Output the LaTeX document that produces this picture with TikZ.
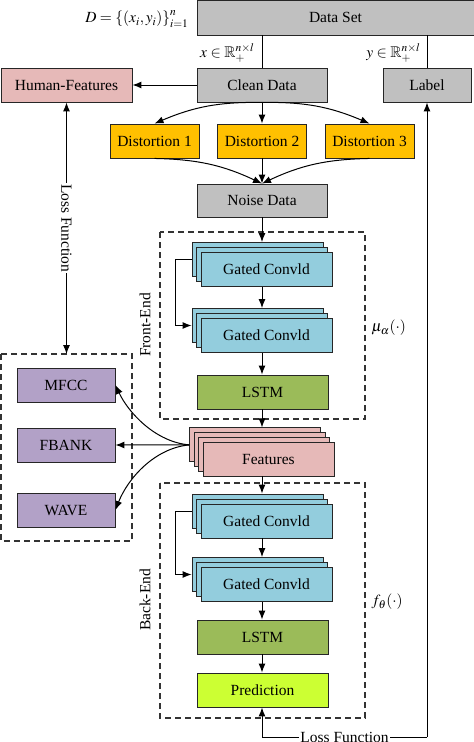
\documentclass[tikz,border=0pt]{standalone}
\usepackage{amsmath}
\usepackage{amssymb}
\usepackage{mathptmx}
\usepackage{fontspec}
\setmainfont{Liberation Serif}
\usepackage{tikz}
\usetikzlibrary{arrows.meta}
\definecolor{greybox}{RGB}{192,192,192}
\definecolor{pinkbox}{RGB}{230,185,184}
\definecolor{goldbox}{RGB}{255,192,0}
\definecolor{bluebox}{RGB}{147,205,221}
\definecolor{greenbox}{RGB}{155,187,89}
\definecolor{limebox}{RGB}{204,255,51}
\definecolor{purplebox}{RGB}{178,161,199}

\begin{document}
\begin{tikzpicture}[x=1pt,y=-1pt,
  every node/.style={font=\fontsize{15.5}{18}\selectfont},
  box/.style={draw=black!85, line width=0.9pt, inner sep=0pt, minimum height=34pt, minimum width=131pt},
  grey/.style={box, fill=greybox},
  dist/.style={box, fill=goldbox, minimum width=89pt},
  conv/.style={box, fill=bluebox},
  lstmbox/.style={box, fill=greenbox},
  predbox/.style={box, fill=limebox},
  featbox/.style={box, fill=pinkbox},
  hand/.style={box, fill=purplebox, minimum width=98pt},
  arr/.style={line width=1pt, -{Latex[length=9pt,width=7pt]}},
  dblarr/.style={line width=1pt, {Latex[length=9pt,width=7pt]}-{Latex[length=9pt,width=7pt]}},
  dbox/.style={line width=1.1pt, dash pattern=on 6pt off 4pt, draw=black!80}]
\fill[white] (0,0) rectangle (474,742);
\useasboundingbox (0,0) rectangle (474,742);

\node[grey, minimum width=277pt, minimum height=35pt] (data) at (335.5,17.5) {Data Set};
\node[grey, minimum width=130pt] (clean) at (262,85) {Clean Data};
\node[grey, minimum width=88pt] (label) at (427,85) {Label};
\node[featbox] (hf) at (66.5,85) {Human-Features};
\node[dist] (d1) at (154.5,141) {Distortion 1};
\node[dist] (d2) at (262,141) {Distortion 2};
\node[dist] (d3) at (369.5,141) {Distortion 3};
\node[grey, minimum width=130pt, minimum height=33pt] (noise) at (262,200.5) {Noise Data};

\foreach \k in {2,1}
  \node[conv] (g1-\k) at (266.5-4.5*\k,269.5-5*\k) {};
\node[conv] (g1) at (266.5,269.5) {Gated Convld};
\foreach \k in {2,1}
  \node[conv] (g2-\k) at (266.5-4.5*\k,335.5-5*\k) {};
\node[conv] (g2) at (266.5,335.5) {Gated Convld};
\node[lstmbox] (lstm1) at (262.5,392) {LSTM};

\foreach \k in {3,2,1}
  \node[featbox] (f-\k) at (268.5-4.4*\k,459-4.7*\k) {};
\node[featbox] (feat) at (268.5,459) {Features};

\foreach \k in {2,1}
  \node[conv] (g3-\k) at (266.5-4.5*\k,521-5*\k) {};
\node[conv] (g3) at (266.5,521) {Gated Convld};
\foreach \k in {2,1}
  \node[conv] (g4-\k) at (266.5-4.5*\k,584.5-5*\k) {};
\node[conv] (g4) at (266.5,584.5) {Gated Convld};
\node[lstmbox] (lstm2) at (262.5,637) {LSTM};
\node[predbox] (pred) at (262.5,690) {Prediction};

\node[hand] (mfcc) at (66,385) {MFCC};
\node[hand] (fbank) at (66,445) {FBANK};
\node[hand] (wave) at (66,510) {WAVE};

\draw[dbox] (160,232) rectangle (365,419);
\draw[dbox] (160,483) rectangle (365,718);
\draw[dbox] (1,354) rectangle (132,541);
\coordinate (hbox) at (66.5,354);
\coordinate (lossc) at (427,737);

\node[anchor=east] (dform) at (192,19) {$D=\left\{\left(x_i,y_i\right)\right\}_{i=1}^{n}$};
\node[anchor=east] (xlab) at (258,53) {$x\in\mathbb{R}_{+}^{n\times l}$};
\node[anchor=east] (ylab) at (424,53) {$y\in\mathbb{R}_{+}^{n\times l}$};
\node[anchor=west] (mu) at (368,328) {$\mu_\alpha(\cdot)$};
\node[anchor=west] (fth) at (368,602) {$f_\theta(\cdot)$};
\node[rotate=90] (fe) at (145,325) {Front-End};
\node[rotate=90] (be) at (145,600) {Back-End};

\draw[line width=1pt] (data.south -| clean) -- (clean.north);
\draw[line width=1pt] (data.south -| label) -- (label.north);
\draw[arr] (clean.west) -- (hf.east);
\draw[arr] (clean.south) to[bend right=12] (d1.north);
\draw[arr] (clean.south) -- (d2.north);
\draw[arr] (clean.south) to[bend left=12] (d3.north);
\draw[arr] (d1.south) to[bend left=12] (noise.north);
\draw[arr] (d2.south) -- (noise.north);
\draw[arr] (d3.south) to[bend right=12] (noise.north);

\draw[arr] (noise.south) -- (noise.south |- g1-2.north);
\draw[arr] (g1.south -| noise) -- (noise |- g2-2.north);
\draw[arr] (g2.south -| noise) -- (noise |- lstm1.north);
\draw[arr] (g1-2.west) -- ++(-16,0) |- (g2-2.west);
\draw[arr] (lstm1.south -| noise) -- (noise |- f-3.north);
\draw[arr] (feat.south -| noise) -- (noise |- g3-2.north);
\draw[arr] (g3.south -| noise) -- (noise |- g4-2.north);
\draw[arr] (g3-2.west) -- ++(-16,0) |- (g4-2.west);
\draw[arr] (g4.south -| noise) -- (noise |- lstm2.north);
\draw[arr] (lstm2.south -| noise) -- (noise |- pred.north);

\draw[arr] (f-3.west) .. controls (155,442) and (128,412) .. (mfcc.east);
\draw[arr] (f-3.west) -- (fbank.east);
\draw[arr] (f-3.west) .. controls (155,448) and (128,478) .. (wave.east);

\draw[dblarr] (hf.south) -- node[fill=white, rotate=-90, inner sep=1pt] {Loss Function} (hbox);
\draw[arr] (lossc) -- (label.south);
\draw[arr] (lossc) -- node[fill=white, inner sep=1pt] {Loss Function} (lossc -| noise) -- (noise |- pred.south);
\end{tikzpicture}
\end{document}
